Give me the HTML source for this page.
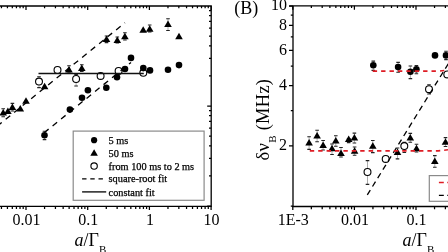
<!DOCTYPE html>
<html><head><meta charset="utf-8"><style>
html,body{margin:0;padding:0;background:#fff;}
body{width:448px;height:252px;overflow:hidden;}
svg{display:block;}
</style></head><body>
<svg width="448" height="252" viewBox="0 0 448 252">
<rect width="448" height="252" fill="#fff"/>
<path d="M0 6H211.2V206.3H0" fill="none" stroke="#000" stroke-width="1.3"/>
<path d="M1.45 6v2.2M1.45 206.3v2.7M7.43 6v2.2M7.43 206.3v2.7M12.31 6v2.2M12.31 206.3v2.7M16.44 6v2.2M16.44 206.3v2.7M20.02 6v2.2M20.02 206.3v2.7M23.18 6v2.2M23.18 206.3v2.7M26.00 6v4M26.00 206.3v3.6M44.57 6v2.2M44.57 206.3v2.7M55.44 6v2.2M55.44 206.3v2.7M63.15 6v2.2M63.15 206.3v2.7M69.13 6v2.2M69.13 206.3v2.7M74.01 6v2.2M74.01 206.3v2.7M78.14 6v2.2M78.14 206.3v2.7M81.72 6v2.2M81.72 206.3v2.7M84.88 6v2.2M84.88 206.3v2.7M87.70 6v4M87.70 206.3v3.6M106.27 6v2.2M106.27 206.3v2.7M117.14 6v2.2M117.14 206.3v2.7M124.85 6v2.2M124.85 206.3v2.7M130.83 6v2.2M130.83 206.3v2.7M135.71 6v2.2M135.71 206.3v2.7M139.84 6v2.2M139.84 206.3v2.7M143.42 6v2.2M143.42 206.3v2.7M146.58 6v2.2M146.58 206.3v2.7M149.40 6v4M149.40 206.3v3.6M167.97 6v2.2M167.97 206.3v2.7M178.84 6v2.2M178.84 206.3v2.7M186.55 6v2.2M186.55 206.3v2.7M192.53 6v2.2M192.53 206.3v2.7M197.41 6v2.2M197.41 206.3v2.7M201.54 6v2.2M201.54 206.3v2.7M205.12 6v2.2M205.12 206.3v2.7M208.28 6v2.2M208.28 206.3v2.7M211.10 6v4M211.10 206.3v3.6M211.2 106.00h-4M211.2 75.90h-2.2M211.2 58.29h-2.2M211.2 45.79h-2.2M211.2 36.10h-2.2M211.2 28.18h-2.2M211.2 21.49h-2.2M211.2 15.69h-2.2M211.2 10.58h-2.2M211.2 206.00h-4M211.2 175.90h-2.2M211.2 158.29h-2.2M211.2 145.79h-2.2M211.2 136.10h-2.2M211.2 128.18h-2.2M211.2 121.49h-2.2M211.2 115.69h-2.2M211.2 110.58h-2.2" stroke="#000" stroke-width="1.25" fill="none"/>
<path d="M3.20 108.80V116.80" stroke="#888" stroke-width="0.7" fill="none"/><path d="M1.40 108.80H5.00M1.40 116.80H5.00" stroke="#222" stroke-width="1.1" fill="none"/>
<path d="M12.40 103.40V111.00" stroke="#888" stroke-width="0.7" fill="none"/><path d="M10.60 103.40H14.20M10.60 111.00H14.20" stroke="#222" stroke-width="1.1" fill="none"/>
<path d="M69.00 65.70V73.00" stroke="#888" stroke-width="0.7" fill="none"/><path d="M67.20 65.70H70.80M67.20 73.00H70.80" stroke="#222" stroke-width="1.1" fill="none"/>
<path d="M81.80 64.80V71.40" stroke="#888" stroke-width="0.7" fill="none"/><path d="M80.00 64.80H83.60M80.00 71.40H83.60" stroke="#222" stroke-width="1.1" fill="none"/>
<path d="M106.50 36.00V42.60" stroke="#888" stroke-width="0.7" fill="none"/><path d="M104.70 36.00H108.30M104.70 42.60H108.30" stroke="#222" stroke-width="1.1" fill="none"/>
<path d="M117.30 37.00V43.00" stroke="#888" stroke-width="0.7" fill="none"/><path d="M115.50 37.00H119.10M115.50 43.00H119.10" stroke="#222" stroke-width="1.1" fill="none"/>
<path d="M124.90 32.80V40.00" stroke="#888" stroke-width="0.7" fill="none"/><path d="M123.10 32.80H126.70M123.10 40.00H126.70" stroke="#222" stroke-width="1.1" fill="none"/>
<path d="M149.70 25.00V32.00" stroke="#888" stroke-width="0.7" fill="none"/><path d="M147.90 25.00H151.50M147.90 32.00H151.50" stroke="#222" stroke-width="1.1" fill="none"/>
<path d="M168.00 18.70V30.50" stroke="#888" stroke-width="0.7" fill="none"/><path d="M166.20 18.70H169.80M166.20 30.50H169.80" stroke="#222" stroke-width="1.1" fill="none"/>
<path d="M44.50 131.20V139.60" stroke="#888" stroke-width="0.7" fill="none"/><path d="M42.70 131.20H46.30M42.70 139.60H46.30" stroke="#222" stroke-width="1.1" fill="none"/>
<path d="M39.00 76.70V87.60" stroke="#888" stroke-width="0.7" fill="none"/><path d="M37.20 76.70H40.80M37.20 87.60H40.80" stroke="#222" stroke-width="1.1" fill="none"/>
<path d="M76.10 74.60V86.00" stroke="#888" stroke-width="0.7" fill="none"/><path d="M74.30 74.60H77.90M74.30 86.00H77.90" stroke="#222" stroke-width="1.1" fill="none"/>
<circle cx="39.00" cy="81.60" r="3.45" fill="#fff" stroke="#000" stroke-width="1.1"/>
<circle cx="57.50" cy="70.00" r="3.45" fill="#fff" stroke="#000" stroke-width="1.1"/>
<circle cx="76.10" cy="79.00" r="3.45" fill="#fff" stroke="#000" stroke-width="1.1"/>
<circle cx="100.60" cy="75.90" r="3.45" fill="#fff" stroke="#000" stroke-width="1.1"/>
<circle cx="118.60" cy="70.90" r="3.45" fill="#fff" stroke="#000" stroke-width="1.1"/>
<circle cx="143.30" cy="72.80" r="3.45" fill="#fff" stroke="#000" stroke-width="1.1"/>
<path d="M3.20 109.12L7.00 115.62L-0.60 115.62Z" fill="#000"/>
<path d="M7.90 107.62L11.70 114.12L4.10 114.12Z" fill="#000"/>
<path d="M12.40 103.42L16.20 109.92L8.60 109.92Z" fill="#000"/>
<path d="M20.30 105.02L24.10 111.52L16.50 111.52Z" fill="#000"/>
<path d="M26.00 97.32L29.80 103.82L22.20 103.82Z" fill="#000"/>
<path d="M44.60 82.72L48.40 89.22L40.80 89.22Z" fill="#000"/>
<path d="M69.00 66.12L72.80 72.62L65.20 72.62Z" fill="#000"/>
<path d="M81.80 64.52L85.60 71.02L78.00 71.02Z" fill="#000"/>
<path d="M106.50 35.42L110.30 41.92L102.70 41.92Z" fill="#000"/>
<path d="M117.30 36.62L121.10 43.12L113.50 43.12Z" fill="#000"/>
<path d="M124.90 32.82L128.70 39.32L121.10 39.32Z" fill="#000"/>
<path d="M143.20 26.32L147.00 32.82L139.40 32.82Z" fill="#000"/>
<path d="M149.70 25.22L153.50 31.72L145.90 31.72Z" fill="#000"/>
<path d="M168.00 20.42L171.80 26.92L164.20 26.92Z" fill="#000"/>
<path d="M179.00 32.82L182.80 39.32L175.20 39.32Z" fill="#000"/>
<circle cx="44.50" cy="135.20" r="3.3" fill="#000"/>
<circle cx="69.90" cy="109.60" r="3.3" fill="#000"/>
<circle cx="82.00" cy="97.70" r="3.3" fill="#000"/>
<circle cx="87.90" cy="90.20" r="3.3" fill="#000"/>
<circle cx="106.30" cy="87.70" r="3.3" fill="#000"/>
<circle cx="117.00" cy="77.20" r="3.3" fill="#000"/>
<circle cx="125.00" cy="69.00" r="3.3" fill="#000"/>
<circle cx="131.00" cy="57.90" r="3.3" fill="#000"/>
<circle cx="143.30" cy="68.10" r="3.3" fill="#000"/>
<circle cx="150.00" cy="70.40" r="3.3" fill="#000"/>
<circle cx="168.00" cy="69.80" r="3.3" fill="#000"/>
<circle cx="179.00" cy="65.10" r="3.3" fill="#000"/>
<path d="M38.5 73.5H143.8" stroke="#111" stroke-width="1.4"/><path d="M-2.79 126.20L125 22.70" stroke="#000" stroke-width="1.3" stroke-dasharray="5.8 5.13" fill="none"/><path d="M44.1 132.78L131 62.40" stroke="#000" stroke-width="1.3" stroke-dasharray="5.8 5.13" fill="none"/>
<rect x="73.2" y="131.1" width="130.9" height="69.2" fill="#fff" stroke="#8a8a8a" stroke-width="1.2"/>
<circle cx="94.10" cy="140.20" r="3.1" fill="#000"/>
<path d="M94.10 149.32L97.90 155.82L90.30 155.82Z" fill="#000"/>
<circle cx="94.10" cy="166.10" r="3.2" fill="#fff" stroke="#000" stroke-width="1.1"/>
<path d="M82.1 178.8H104" stroke="#000" stroke-width="1.3" stroke-dasharray="4.4 3.8"/>
<path d="M82.1 191.9H106.2" stroke="#000" stroke-width="1.3"/>
<text x="108.6" y="143.8" font-family="Liberation Serif, serif" font-size="10.3" stroke="#000" stroke-width="0.25">5 ms</text>
<text x="108.6" y="156.5" font-family="Liberation Serif, serif" font-size="10.3" stroke="#000" stroke-width="0.25">50 ms</text>
<text x="108.6" y="169.6" font-family="Liberation Serif, serif" font-size="10.3" stroke="#000" stroke-width="0.25">from 100 ms to 2 ms</text>
<text x="108.6" y="182.4" font-family="Liberation Serif, serif" font-size="10.3" stroke="#000" stroke-width="0.25">square-root fit</text>
<text x="108.6" y="195.6" font-family="Liberation Serif, serif" font-size="10.3" stroke="#000" stroke-width="0.25">constant fit</text>
<text x="26.50" y="225" font-family="Liberation Serif, serif" font-size="16" text-anchor="middle">0.01</text>
<text x="88.20" y="225" font-family="Liberation Serif, serif" font-size="16" text-anchor="middle">0.1</text>
<text x="149.90" y="225" font-family="Liberation Serif, serif" font-size="16" text-anchor="middle">1</text>
<text x="211.60" y="225" font-family="Liberation Serif, serif" font-size="16" text-anchor="middle">10</text>
<text x="74.6" y="245.6" font-family="Liberation Serif, serif" font-size="18"><tspan font-style="italic">a</tspan>/Γ<tspan font-size="11" dy="7">B</tspan></text>
<path d="M448 5.8H289.2M293 5.8V206.5H448" fill="none" stroke="#000" stroke-width="1.3"/>
<path d="M292.80 5.8v4M292.80 206.5v3.6M311.34 5.8v2.2M311.34 206.5v2.7M322.19 5.8v2.2M322.19 206.5v2.7M329.89 5.8v2.2M329.89 206.5v2.7M335.86 5.8v2.2M335.86 206.5v2.7M340.73 5.8v2.2M340.73 206.5v2.7M344.86 5.8v2.2M344.86 206.5v2.7M348.43 5.8v2.2M348.43 206.5v2.7M351.58 5.8v2.2M351.58 206.5v2.7M354.40 5.8v4M354.40 206.5v3.6M372.94 5.8v2.2M372.94 206.5v2.7M383.79 5.8v2.2M383.79 206.5v2.7M391.49 5.8v2.2M391.49 206.5v2.7M397.46 5.8v2.2M397.46 206.5v2.7M402.33 5.8v2.2M402.33 206.5v2.7M406.46 5.8v2.2M406.46 206.5v2.7M410.03 5.8v2.2M410.03 206.5v2.7M413.18 5.8v2.2M413.18 206.5v2.7M416.00 5.8v4M416.00 206.5v3.6M434.54 5.8v2.2M434.54 206.5v2.7M445.39 5.8v2.2M445.39 206.5v2.7M293 206.00h-2.2M293 145.79h-4M293 110.58h-2.2M293 85.59h-4M293 66.21h-2.2M293 50.37h-4M293 36.98h-2.2M293 25.38h-4M293 15.15h-2.2M293 6.00h-4" stroke="#000" stroke-width="1.25" fill="none"/>
<text x="287" y="10.30" font-family="Liberation Serif, serif" font-size="16" text-anchor="end">10</text>
<text x="287" y="29.68" font-family="Liberation Serif, serif" font-size="16" text-anchor="end">8</text>
<text x="287" y="54.67" font-family="Liberation Serif, serif" font-size="16" text-anchor="end">6</text>
<text x="287" y="89.89" font-family="Liberation Serif, serif" font-size="16" text-anchor="end">4</text>
<text x="287" y="150.09" font-family="Liberation Serif, serif" font-size="16" text-anchor="end">2</text>
<text x="293.30" y="225" font-family="Liberation Serif, serif" font-size="16" text-anchor="middle">1E-3</text>
<text x="354.90" y="225" font-family="Liberation Serif, serif" font-size="16" text-anchor="middle">0.01</text>
<text x="416.50" y="225" font-family="Liberation Serif, serif" font-size="16" text-anchor="middle">0.1</text>
<text x="402.6" y="245.6" font-family="Liberation Serif, serif" font-size="18"><tspan font-style="italic">a</tspan>/Γ<tspan font-size="11" dy="7">B</tspan></text>
<text x="234.2" y="14" font-family="Liberation Serif, serif" font-size="18">(B)</text>
<text transform="translate(268.6 160.4) rotate(-90)" font-family="Liberation Serif, serif" font-size="18.5" letter-spacing="0.25">δν<tspan font-size="11" dy="7">B</tspan><tspan dy="-7"> (MHz)</tspan></text>
<path d="M309.10 136.70V149.40" stroke="#888" stroke-width="0.7" fill="none"/><path d="M307.30 136.70H310.90M307.30 149.40H310.90" stroke="#222" stroke-width="1.1" fill="none"/>
<path d="M317.10 130.30V141.80" stroke="#888" stroke-width="0.7" fill="none"/><path d="M315.30 130.30H318.90M315.30 141.80H318.90" stroke="#222" stroke-width="1.1" fill="none"/>
<path d="M323.10 140.50V150.00" stroke="#888" stroke-width="0.7" fill="none"/><path d="M321.30 140.50H324.90M321.30 150.00H324.90" stroke="#222" stroke-width="1.1" fill="none"/>
<path d="M335.80 135.70V146.20" stroke="#888" stroke-width="0.7" fill="none"/><path d="M334.00 135.70H337.60M334.00 146.20H337.60" stroke="#222" stroke-width="1.1" fill="none"/>
<path d="M332.00 144.00V154.50" stroke="#888" stroke-width="0.7" fill="none"/><path d="M330.20 144.00H333.80M330.20 154.50H333.80" stroke="#222" stroke-width="1.1" fill="none"/>
<path d="M341.00 147.50V157.00" stroke="#888" stroke-width="0.7" fill="none"/><path d="M339.20 147.50H342.80M339.20 157.00H342.80" stroke="#222" stroke-width="1.1" fill="none"/>
<path d="M348.70 138.50V142.60" stroke="#888" stroke-width="0.7" fill="none"/><path d="M346.90 138.50H350.50M346.90 142.60H350.50" stroke="#222" stroke-width="1.1" fill="none"/>
<path d="M354.40 133.10V143.00" stroke="#888" stroke-width="0.7" fill="none"/><path d="M352.60 133.10H356.20M352.60 143.00H356.20" stroke="#222" stroke-width="1.1" fill="none"/>
<path d="M354.60 147.00V155.20" stroke="#888" stroke-width="0.7" fill="none"/><path d="M352.80 147.00H356.40M352.80 155.20H356.40" stroke="#222" stroke-width="1.1" fill="none"/>
<path d="M372.80 140.50V152.60" stroke="#888" stroke-width="0.7" fill="none"/><path d="M371.00 140.50H374.60M371.00 152.60H374.60" stroke="#222" stroke-width="1.1" fill="none"/>
<path d="M397.50 148.00V158.90" stroke="#888" stroke-width="0.7" fill="none"/><path d="M395.70 148.00H399.30M395.70 158.90H399.30" stroke="#222" stroke-width="1.1" fill="none"/>
<path d="M410.30 133.40V142.30" stroke="#888" stroke-width="0.7" fill="none"/><path d="M408.50 133.40H412.10M408.50 142.30H412.10" stroke="#222" stroke-width="1.1" fill="none"/>
<path d="M416.50 144.30V152.00" stroke="#888" stroke-width="0.7" fill="none"/><path d="M414.70 144.30H418.30M414.70 152.00H418.30" stroke="#222" stroke-width="1.1" fill="none"/>
<path d="M434.80 155.60V167.20" stroke="#888" stroke-width="0.7" fill="none"/><path d="M433.00 155.60H436.60M433.00 167.20H436.60" stroke="#222" stroke-width="1.1" fill="none"/>
<path d="M445.50 137.60V146.50" stroke="#888" stroke-width="0.7" fill="none"/><path d="M443.70 137.60H447.30M443.70 146.50H447.30" stroke="#222" stroke-width="1.1" fill="none"/>
<path d="M373.30 61.10V70.40" stroke="#888" stroke-width="0.7" fill="none"/><path d="M371.50 61.10H375.10M371.50 70.40H375.10" stroke="#222" stroke-width="1.1" fill="none"/>
<path d="M398.10 62.40V72.30" stroke="#888" stroke-width="0.7" fill="none"/><path d="M396.30 62.40H399.90M396.30 72.30H399.90" stroke="#222" stroke-width="1.1" fill="none"/>
<path d="M410.40 66.00V78.60" stroke="#888" stroke-width="0.7" fill="none"/><path d="M408.60 66.00H412.20M408.60 78.60H412.20" stroke="#222" stroke-width="1.1" fill="none"/>
<path d="M416.40 65.50V73.70" stroke="#888" stroke-width="0.7" fill="none"/><path d="M414.60 65.50H418.20M414.60 73.70H418.20" stroke="#222" stroke-width="1.1" fill="none"/>
<path d="M446.00 51.20V59.60" stroke="#888" stroke-width="0.7" fill="none"/><path d="M444.20 51.20H447.80M444.20 59.60H447.80" stroke="#222" stroke-width="1.1" fill="none"/>
<path d="M367.50 160.60V184.40" stroke="#888" stroke-width="0.7" fill="none"/><path d="M365.70 160.60H369.30M365.70 184.40H369.30" stroke="#222" stroke-width="1.1" fill="none"/>
<path d="M404.30 142.30V152.50" stroke="#888" stroke-width="0.7" fill="none"/><path d="M402.50 142.30H406.10M402.50 152.50H406.10" stroke="#222" stroke-width="1.1" fill="none"/>
<path d="M429.00 84.70V94.00" stroke="#888" stroke-width="0.7" fill="none"/><path d="M427.20 84.70H430.80M427.20 94.00H430.80" stroke="#222" stroke-width="1.1" fill="none"/>
<circle cx="367.50" cy="172.00" r="3.45" fill="#fff" stroke="#000" stroke-width="1.1"/>
<circle cx="385.70" cy="158.90" r="3.45" fill="#fff" stroke="#000" stroke-width="1.1"/>
<circle cx="404.30" cy="146.10" r="3.45" fill="#fff" stroke="#000" stroke-width="1.1"/>
<circle cx="429.00" cy="89.20" r="3.45" fill="#fff" stroke="#000" stroke-width="1.1"/>
<circle cx="447.30" cy="74.40" r="3.45" fill="#fff" stroke="#000" stroke-width="1.1"/>
<path d="M309.10 139.02L312.90 145.52L305.30 145.52Z" fill="#000"/>
<path d="M317.10 132.02L320.90 138.52L313.30 138.52Z" fill="#000"/>
<path d="M323.10 141.62L326.90 148.12L319.30 148.12Z" fill="#000"/>
<path d="M335.80 136.92L339.60 143.42L332.00 143.42Z" fill="#000"/>
<path d="M332.00 144.72L335.80 151.22L328.20 151.22Z" fill="#000"/>
<path d="M341.00 149.62L344.80 156.12L337.20 156.12Z" fill="#000"/>
<path d="M348.70 135.62L352.50 142.12L344.90 142.12Z" fill="#000"/>
<path d="M354.40 133.92L358.20 140.42L350.60 140.42Z" fill="#000"/>
<path d="M354.60 147.22L358.40 153.72L350.80 153.72Z" fill="#000"/>
<path d="M372.80 142.22L376.60 148.72L369.00 148.72Z" fill="#000"/>
<path d="M397.50 148.52L401.30 155.02L393.70 155.02Z" fill="#000"/>
<path d="M410.30 134.02L414.10 140.52L406.50 140.52Z" fill="#000"/>
<path d="M416.50 144.82L420.30 151.32L412.70 151.32Z" fill="#000"/>
<path d="M434.80 157.52L438.60 164.02L431.00 164.02Z" fill="#000"/>
<path d="M445.50 138.22L449.30 144.72L441.70 144.72Z" fill="#000"/>
<circle cx="373.30" cy="65.30" r="3.3" fill="#000"/>
<circle cx="398.10" cy="67.10" r="3.3" fill="#000"/>
<circle cx="410.40" cy="71.80" r="3.3" fill="#000"/>
<circle cx="416.40" cy="69.30" r="3.3" fill="#000"/>
<circle cx="435.00" cy="55.40" r="3.3" fill="#000"/>
<circle cx="446.00" cy="55.40" r="3.3" fill="#000"/>
<path d="M367.3 194.94L452 57.73" stroke="#000" stroke-width="1.3" stroke-dasharray="5.7 4.2" fill="none"/>
<path d="M372.7 71.1H438C442 71.1 445 70.5 448 69.8" stroke="#de1c24" stroke-width="1.6" stroke-dasharray="4.4 4" fill="none"/>
<path d="M309.8 150.9H432C439 150.9 443 150.4 448 149.7" stroke="#de1c24" stroke-width="1.6" stroke-dasharray="4.4 4" fill="none"/>
<rect x="429.3" y="175.6" width="30" height="25.7" fill="#fff" stroke="#8a8a8a" stroke-width="1.2"/>
<path d="M438.9 182.5H460" stroke="#de1c24" stroke-width="1.6" stroke-dasharray="4.9 3.5"/>
<path d="M438.9 195.4H460" stroke="#000" stroke-width="1.3" stroke-dasharray="4.9 3.5"/>
</svg>
</body></html>
